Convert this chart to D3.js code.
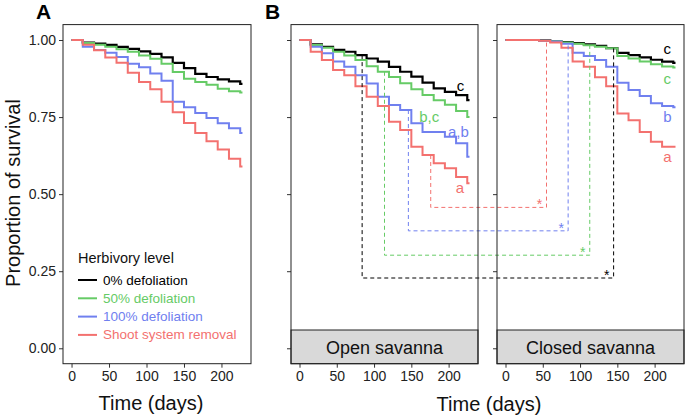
<!DOCTYPE html>
<html>
<head>
<meta charset="utf-8">
<script src="https://cdnjs.cloudflare.com/ajax/libs/d3/7.8.5/d3.min.js"></script>
<style>
body { margin: 0; background: #fff; }
svg text { font-family: Arial, "Liberation Sans", sans-serif; }
.axis path { display: none; }
.axis line { stroke: #333; }
.axis text { fill: #222; font-size: 14px; }
</style>
</head>
<body>
<svg width="685" height="417"></svg>
<script>
// census days (step times) and last day of follow-up
var days = [0, 15, 30, 45, 60, 75, 90, 105, 120, 135, 150, 165, 180, 195, 210, 225];
var endDay = 228;

var levels = ["0% defoliation", "50% defoliation", "100% defoliation", "Shoot system removal"];
var colors = ["#000000", "#66cb66", "#7080ef", "#f3716f"];

// panel A: all habitats
var allBlack = [1, 0.992, 0.988, 0.984, 0.978, 0.971, 0.963, 0.955, 0.944, 0.926, 0.909, 0.89, 0.88, 0.872, 0.866, 0.858];
var allGreen = [1, 0.99, 0.985, 0.978, 0.97, 0.962, 0.95, 0.939, 0.923, 0.896, 0.874, 0.864, 0.855, 0.842, 0.834, 0.83];
var allBlue  = [1, 0.978, 0.968, 0.959, 0.945, 0.923, 0.912, 0.891, 0.868, 0.8, 0.782, 0.763, 0.747, 0.73, 0.714, 0.698];
var allRed   = [1, 0.985, 0.967, 0.943, 0.926, 0.894, 0.864, 0.84, 0.8, 0.766, 0.731, 0.698, 0.672, 0.645, 0.615, 0.59];

// panel B: open savanna
var openBlack = [1, 0.986, 0.978, 0.968, 0.962, 0.951, 0.94, 0.93, 0.913, 0.897, 0.881, 0.862, 0.843, 0.832, 0.821, 0.805];
var openGreen = [1, 0.984, 0.975, 0.962, 0.95, 0.935, 0.915, 0.897, 0.88, 0.86, 0.84, 0.822, 0.805, 0.79, 0.77, 0.75];
var openBlue  = [1, 0.978, 0.957, 0.93, 0.913, 0.886, 0.859, 0.816, 0.789, 0.773, 0.73, 0.702, 0.702, 0.686, 0.665, 0.621];
var openRed   = [1, 0.962, 0.935, 0.903, 0.886, 0.85, 0.816, 0.786, 0.735, 0.708, 0.654, 0.627, 0.6, 0.584, 0.556, 0.535];

// panel B: closed savanna
var closedBlack = [1, 1, 1, 0.999, 0.996, 0.993, 0.99, 0.986, 0.981, 0.974, 0.958, 0.951, 0.944, 0.936, 0.93, 0.926];
var closedGreen = [1, 1, 1, 0.998, 0.996, 0.992, 0.988, 0.983, 0.978, 0.973, 0.948, 0.94, 0.93, 0.921, 0.914, 0.911];
var closedBlue  = [1, 1, 1, 0.998, 0.995, 0.988, 0.959, 0.948, 0.935, 0.913, 0.861, 0.838, 0.818, 0.795, 0.786, 0.782];
var closedRed   = [1, 1, 1, 0.998, 0.992, 0.975, 0.93, 0.913, 0.879, 0.85, 0.762, 0.74, 0.702, 0.67, 0.654, 0.654];

// open vs closed comparisons (dashed brackets)
var cmpOpenDay   = [84, 114, 146, 176];
var cmpClosedDay = [145, 113, 84, 55];
var cmpLevel     = [0.228, 0.302, 0.381, 0.457];

// significance letters: [day, value]
var openLetters   = ["c", "b,c", "a,b", "a"];
var openLetterAt  = [[216, 0.854], [174, 0.753], [213, 0.703], [215, 0.523]];
var closedLetters  = ["c", "c", "b", "a"];
var closedLetterAt = [[217, 0.974], [217, 0.874], [217, 0.751], [217, 0.622]];

var yTicks = [0, 0.25, 0.5, 0.75, 1];
var xTicks = [0, 50, 100, 150, 200];

var svg = d3.select("svg");
var panelTop = 24.6, panelBottom = 363.7;
var y = d3.scaleLinear().domain([-0.05, 1.05]).range([panelBottom, panelTop]);

function xScale(left, right) {
  return d3.scaleLinear().domain([-11.4, 239.4]).range([left, right]);
}

function series(vals) {
  var pts = days.map(function (d, i) { return [d, vals[i]]; });
  pts.push([endDay, vals[vals.length - 1]]);
  return pts;
}

function valueAt(vals, day) {
  var i = d3.bisectRight(days, day) - 1;
  return vals[i];
}

function drawPanel(x, curves, showLabels) {
  var g = svg.append("g");
  var line = d3.line()
    .x(function (d) { return x(d[0]); })
    .y(function (d) { return y(d[1]); })
    .curve(d3.curveStepAfter);
  curves.forEach(function (vals, i) {
    g.append("path")
      .attr("d", line(series(vals)))
      .attr("fill", "none")
      .attr("stroke", colors[i])
      .attr("stroke-width", i == 0 ? 2.2 : 2);
  });
  svg.append("g")
    .attr("class", "axis")
    .attr("transform", "translate(" + x.range()[0] + ",0)")
    .call(d3.axisLeft(y).tickValues(yTicks).tickSize(4).tickPadding(3)
      .tickFormat(showLabels ? d3.format(".2f") : ""));
  svg.append("g")
    .attr("class", "axis")
    .attr("transform", "translate(0," + panelBottom + ")")
    .call(d3.axisBottom(x).tickValues(xTicks).tickSize(4).tickPadding(3));
  return g;
}

// panel A
var xA = xScale(63, 251);
drawPanel(xA, [allBlack, allGreen, allBlue, allRed], true);
svg.append("rect")
  .attr("x", 63).attr("y", panelTop).attr("width", 251 - 63).attr("height", panelBottom - panelTop)
  .attr("fill", "none").attr("stroke", "#222").attr("stroke-width", 1);

// legend
var lg = svg.append("g").attr("transform", "translate(78,263)");
lg.append("text").attr("x", 0).attr("y", 0).attr("font-size", "14.5px").attr("fill", "#111").text("Herbivory level");
levels.forEach(function (name, i) {
  var yy = 17 + i * 18.3;
  lg.append("line").attr("x1", 0).attr("x2", 19).attr("y1", yy).attr("y2", yy)
    .attr("stroke", colors[i]).attr("stroke-width", 2);
  lg.append("text").attr("x", 25).attr("y", yy + 4.5).attr("font-size", "13.5px")
    .attr("fill", colors[i]).text(name);
});

// panel B
var xOpen = xScale(291, 478);
var xClosed = xScale(497, 684);
var openCurves = [openBlack, openGreen, openBlue, openRed];
var closedCurves = [closedBlack, closedGreen, closedBlue, closedRed];
drawPanel(xOpen, openCurves, false);
drawPanel(xClosed, closedCurves, false);

// dashed comparison brackets
cmpLevel.forEach(function (lev, i) {
  var x1 = xOpen(cmpOpenDay[i]), x2 = xClosed(cmpClosedDay[i]);
  var y1 = y(valueAt(openCurves[i], cmpOpenDay[i]));
  var y2 = y(valueAt(closedCurves[i], cmpClosedDay[i]));
  var yl = y(lev);
  svg.append("path")
    .attr("d", "M" + x1 + "," + y1 + "V" + yl + "H" + x2 + "V" + y2)
    .attr("fill", "none").attr("stroke", colors[i]).attr("stroke-width", 1)
    .attr("stroke-dasharray", "4,3");
  svg.append("text")
    .attr("x", x2 - 7).attr("y", yl + 2)
    .attr("text-anchor", "middle").attr("font-size", "14px")
    .attr("fill", colors[i]).text("*");
});

openLetters.forEach(function (t, i) {
  svg.append("text").attr("x", xOpen(openLetterAt[i][0])).attr("y", y(openLetterAt[i][1]))
    .attr("text-anchor", "middle").attr("dominant-baseline", "central")
    .attr("font-size", "15px").attr("fill", colors[i]).text(t);
});
closedLetters.forEach(function (t, i) {
  svg.append("text").attr("x", xClosed(closedLetterAt[i][0])).attr("y", y(closedLetterAt[i][1]))
    .attr("text-anchor", "middle").attr("dominant-baseline", "central")
    .attr("font-size", "15px").attr("fill", colors[i]).text(t);
});

// frames and strips
[[291, 478, "Open savanna"], [497, 684, "Closed savanna"]].forEach(function (p) {
  svg.append("rect").attr("x", p[0]).attr("y", 330).attr("width", p[1] - p[0]).attr("height", panelBottom - 330)
    .attr("fill", "#d9d9d9").attr("stroke", "#222").attr("stroke-width", 1);
  svg.append("text").attr("x", (p[0] + p[1]) / 2).attr("y", 353.5)
    .attr("text-anchor", "middle").attr("font-size", "18px").attr("fill", "#111").text(p[2]);
  svg.append("rect").attr("x", p[0]).attr("y", panelTop).attr("width", p[1] - p[0]).attr("height", panelBottom - panelTop)
    .attr("fill", "none").attr("stroke", "#222").attr("stroke-width", 1);
});

// titles
svg.append("text").attr("x", 151).attr("y", 410).attr("text-anchor", "middle")
  .attr("font-size", "20px").attr("fill", "#111").text("Time (days)");
svg.append("text").attr("x", 489).attr("y", 411).attr("text-anchor", "middle")
  .attr("font-size", "20px").attr("fill", "#111").text("Time (days)");
svg.append("text").attr("transform", "translate(19.5,193) rotate(-90)").attr("text-anchor", "middle")
  .attr("font-size", "20px").attr("fill", "#111").text("Proportion of survival");
svg.append("text").attr("x", 36).attr("y", 18.5).attr("font-size", "21px").attr("font-weight", "bold").text("A");
svg.append("text").attr("x", 265).attr("y", 18.5).attr("font-size", "21px").attr("font-weight", "bold").text("B");
</script>
</body>
</html>
